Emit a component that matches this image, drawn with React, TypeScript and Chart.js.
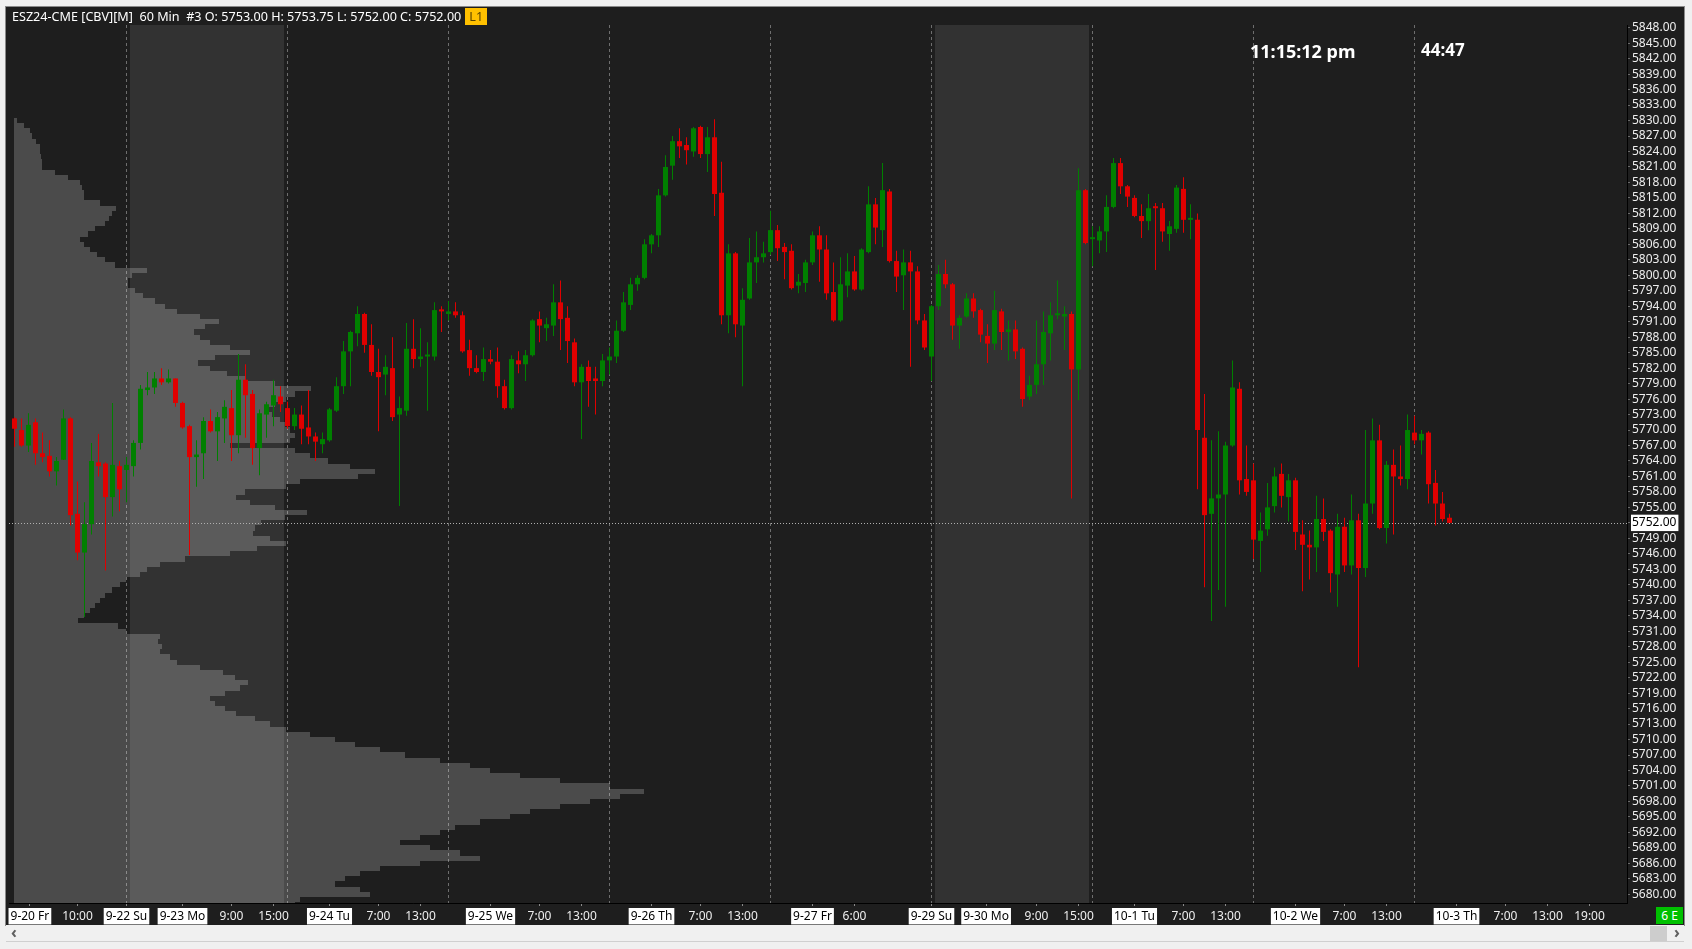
import React, { useEffect, useRef } from 'react';
import { Chart, registerables } from 'chart.js';

Chart.register(...registerables);

// ---- Candles: 60-min bars, index 0 = 9-20 01:00 ----
const OPEN = [
  5772.25, 5770.0, 5767.0, 5771.5, 5765.5, 5765.0, 5762.0, 5764.25, 5772.25, 5753.75,
  5746.25, 5751.75, 5763.75, 5763.5, 5757.0, 5763.0, 5762.25, 5763.0, 5767.5, 5777.75,
  5778.25, 5780.0, 5779.25, 5780.0, 5775.25, 5770.75, 5764.75, 5765.5, 5771.75, 5769.75,
  5772.25, 5774.25, 5769.0, 5779.75, 5777.0, 5766.5, 5773.0, 5774.75, 5776.5, 5774.25,
  5770.75, 5773.0, 5770.5, 5768.75, 5767.25, 5768.0, 5773.75, 5778.5, 5785.25, 5788.75,
  5792.5, 5786.5, 5781.25, 5780.75, 5782.0, 5773.0, 5773.75, 5785.75, 5783.75, 5784.25,
  5784.25, 5793.25, 5792.5, 5793.0, 5792.25, 5785.5, 5782.0, 5781.25, 5783.75, 5783.25,
  5778.5, 5774.25, 5783.5, 5782.75, 5784.5, 5791.5, 5789.75, 5790.25, 5794.75, 5791.75,
  5787.0, 5779.25, 5782.25, 5780.0, 5779.5, 5783.5, 5784.25, 5789.25, 5794.25, 5798.25,
  5799.5, 5806.0, 5807.75, 5815.5, 5821.25, 5826.0, 5825.25, 5824.0, 5828.75, 5823.5,
  5826.75, 5816.0, 5792.25, 5804.25, 5790.25, 5795.5, 5802.5, 5803.5, 5804.5, 5808.75,
  5805.5, 5804.75, 5798.0, 5798.5, 5802.5, 5807.75, 5805.0, 5796.75, 5791.25, 5798.0,
  5800.75, 5797.25, 5804.5, 5813.75, 5808.75, 5816.25, 5802.75, 5800.0, 5802.5, 5800.75,
  5791.25, 5784.25, 5794.0, 5800.25, 5798.25, 5790.25, 5792.0, 5795.5, 5793.25, 5788.25,
  5786.75, 5793.0, 5789.0, 5789.5, 5785.75, 5776.5, 5778.75, 5782.75, 5788.75, 5792.25,
  5792.0, 5792.5, 5781.75, 5816.5, 5807.0, 5806.75, 5808.5, 5813.25, 5821.75, 5817.25,
  5815.0, 5811.5, 5810.5, 5813.25, 5813.0, 5808.0, 5809.0, 5816.75, 5810.75, 5810.75,
  5768.5, 5753.75, 5756.75, 5757.5, 5767.0, 5778.0, 5760.5, 5760.25, 5748.5, 5750.75,
  5755.25, 5761.5, 5757.0, 5760.25, 5749.75, 5747.75, 5747.25, 5752.75, 5750.5, 5742.0,
  5751.25, 5743.75, 5752.5, 5743.25, 5755.75, 5768.0, 5751.0, 5763.25, 5761.0, 5760.5,
  5769.5, 5768.0, 5769.5, 5759.75, 5755.75, 5753.0,
];
const HIGH = [
  5772.5, 5772.25, 5773.25, 5772.25, 5769.5, 5768.0, 5764.75, 5774.0, 5772.5, 5760.0,
  5756.0, 5767.5, 5769.25, 5763.75, 5775.25, 5764.0, 5764.75, 5768.0, 5778.75, 5781.25,
  5781.25, 5782.0, 5781.75, 5780.0, 5775.5, 5771.0, 5768.0, 5772.5, 5774.0, 5773.5,
  5775.75, 5777.75, 5784.75, 5782.75, 5777.75, 5774.0, 5775.5, 5779.75, 5778.5, 5775.5,
  5774.25, 5774.75, 5777.75, 5769.5, 5769.5, 5774.25, 5780.25, 5787.25, 5789.25, 5794.0,
  5792.75, 5790.5, 5785.75, 5784.5, 5788.0, 5776.5, 5790.75, 5791.5, 5789.75, 5787.0,
  5794.75, 5794.0, 5795.0, 5794.75, 5793.0, 5787.5, 5784.5, 5786.0, 5785.5, 5786.0,
  5779.75, 5784.5, 5785.25, 5785.5, 5791.5, 5793.0, 5791.75, 5798.25, 5799.0, 5794.0,
  5787.75, 5782.75, 5783.5, 5782.25, 5784.75, 5786.0, 5791.25, 5796.75, 5799.5, 5800.0,
  5807.0, 5808.0, 5816.75, 5823.25, 5827.0, 5828.5, 5826.75, 5828.75, 5829.0, 5828.75,
  5830.25, 5822.0, 5806.0, 5804.5, 5797.5, 5807.25, 5808.5, 5806.5, 5812.5, 5809.75,
  5806.25, 5806.0, 5800.25, 5803.0, 5808.5, 5809.5, 5807.75, 5802.5, 5803.5, 5804.25,
  5803.75, 5805.25, 5817.25, 5815.0, 5821.75, 5816.75, 5804.75, 5805.0, 5804.75, 5801.75,
  5792.5, 5794.25, 5802.0, 5803.0, 5798.5, 5792.25, 5796.5, 5796.5, 5793.5, 5790.5,
  5797.0, 5793.5, 5791.25, 5791.25, 5786.0, 5780.5, 5791.25, 5793.0, 5794.75, 5799.0,
  5794.0, 5793.0, 5820.75, 5816.75, 5809.5, 5809.5, 5815.5, 5822.75, 5822.75, 5817.5,
  5815.5, 5813.75, 5815.75, 5814.0, 5814.0, 5810.5, 5817.5, 5819.0, 5813.75, 5812.0,
  5777.0, 5768.0, 5769.75, 5767.75, 5783.5, 5779.25, 5767.0, 5763.5, 5754.0, 5759.75,
  5762.75, 5763.5, 5761.5, 5760.75, 5752.5, 5750.5, 5757.25, 5756.75, 5750.75, 5753.75,
  5753.0, 5757.5, 5753.75, 5770.0, 5772.25, 5771.0, 5764.0, 5766.25, 5767.0, 5773.0,
  5772.75, 5770.0, 5769.75, 5762.25, 5758.0, 5753.75,
];
const LOW = [
  5766.75, 5766.75, 5765.75, 5763.25, 5763.75, 5761.0, 5759.25, 5764.25, 5751.5, 5744.75,
  5733.75, 5749.75, 5761.0, 5742.75, 5753.25, 5754.25, 5756.0, 5761.0, 5766.25, 5776.75,
  5777.0, 5778.75, 5779.0, 5774.5, 5770.25, 5745.75, 5759.0, 5760.5, 5769.5, 5764.0,
  5767.5, 5764.0, 5765.5, 5768.5, 5763.25, 5761.25, 5768.5, 5770.75, 5773.5, 5770.25,
  5770.0, 5767.25, 5767.25, 5764.0, 5765.5, 5767.75, 5773.5, 5777.0, 5778.5, 5786.25,
  5785.0, 5780.5, 5769.75, 5776.75, 5771.75, 5755.25, 5772.75, 5782.0, 5782.25, 5773.75,
  5783.5, 5789.0, 5791.25, 5791.75, 5785.0, 5780.5, 5781.0, 5779.5, 5782.75, 5776.25,
  5774.0, 5774.0, 5781.0, 5779.5, 5784.25, 5787.0, 5787.25, 5788.25, 5785.5, 5783.0,
  5778.5, 5768.25, 5774.5, 5773.0, 5778.5, 5780.75, 5783.0, 5789.0, 5793.25, 5797.0,
  5799.25, 5804.25, 5805.5, 5815.25, 5818.5, 5822.75, 5821.5, 5823.0, 5822.75, 5820.0,
  5811.5, 5790.5, 5788.75, 5788.0, 5778.5, 5795.25, 5798.5, 5802.5, 5804.0, 5802.75,
  5799.25, 5797.25, 5796.5, 5796.75, 5802.0, 5798.75, 5795.25, 5791.0, 5791.0, 5795.75,
  5797.0, 5797.0, 5804.25, 5806.0, 5805.5, 5802.5, 5796.75, 5793.25, 5782.25, 5790.5,
  5785.5, 5779.5, 5793.25, 5797.5, 5787.5, 5785.75, 5791.75, 5791.75, 5787.0, 5783.0,
  5785.5, 5785.5, 5783.5, 5783.75, 5774.5, 5775.75, 5777.0, 5778.75, 5783.5, 5791.5,
  5785.5, 5756.75, 5775.75, 5806.0, 5801.75, 5804.25, 5804.5, 5813.0, 5815.75, 5813.25,
  5811.25, 5807.25, 5808.75, 5801.0, 5806.5, 5804.75, 5808.25, 5808.25, 5807.0, 5758.5,
  5739.5, 5733.0, 5739.0, 5735.75, 5766.75, 5757.5, 5757.25, 5745.0, 5742.5, 5749.5,
  5754.0, 5755.0, 5752.25, 5746.75, 5738.75, 5741.0, 5742.5, 5748.5, 5738.5, 5735.75,
  5742.5, 5742.0, 5724.0, 5741.5, 5753.75, 5750.75, 5748.0, 5749.75, 5759.25, 5758.5,
  5767.25, 5765.25, 5755.75, 5751.5, 5752.25, 5752.0,
];
const CLOSE = [
  5770.25, 5767.0, 5771.0, 5765.5, 5764.75, 5762.0, 5764.0, 5772.25, 5753.5, 5746.25,
  5751.75, 5764.0, 5763.0, 5757.0, 5763.25, 5758.5, 5763.25, 5767.5, 5778.0, 5778.25,
  5780.0, 5779.25, 5780.0, 5775.25, 5770.5, 5764.75, 5765.25, 5771.75, 5769.75, 5772.5,
  5774.5, 5769.0, 5779.75, 5776.75, 5766.5, 5773.25, 5775.0, 5776.75, 5775.0, 5770.75,
  5773.0, 5770.25, 5768.75, 5767.75, 5768.25, 5774.0, 5778.5, 5785.25, 5789.0, 5792.5,
  5786.5, 5781.25, 5780.25, 5782.25, 5772.5, 5774.25, 5785.75, 5783.75, 5784.25, 5784.5,
  5793.25, 5793.0, 5793.0, 5792.25, 5785.25, 5782.0, 5781.25, 5783.75, 5783.25, 5778.5,
  5774.25, 5783.75, 5782.75, 5784.5, 5791.25, 5790.25, 5790.5, 5794.75, 5791.5, 5787.25,
  5779.25, 5782.25, 5779.5, 5779.5, 5783.5, 5784.25, 5789.25, 5794.75, 5798.25, 5799.5,
  5806.0, 5807.75, 5815.5, 5821.0, 5826.0, 5825.0, 5824.25, 5828.5, 5823.5, 5826.75,
  5815.75, 5792.25, 5804.25, 5790.5, 5795.25, 5802.5, 5803.5, 5804.25, 5808.75, 5805.25,
  5804.5, 5797.5, 5798.75, 5802.5, 5807.75, 5805.0, 5796.5, 5791.25, 5798.25, 5800.75,
  5797.25, 5805.0, 5813.75, 5809.25, 5816.5, 5802.75, 5799.75, 5802.5, 5800.75, 5791.25,
  5786.0, 5794.0, 5800.25, 5798.25, 5790.25, 5791.75, 5795.5, 5793.0, 5788.5, 5786.75,
  5793.25, 5789.0, 5789.5, 5785.25, 5776.0, 5778.75, 5782.75, 5789.0, 5792.25, 5792.5,
  5792.5, 5781.75, 5816.5, 5806.25, 5807.25, 5808.5, 5813.25, 5821.75, 5817.25, 5815.25,
  5811.5, 5810.5, 5813.0, 5813.0, 5808.5, 5809.5, 5817.0, 5810.75, 5811.0, 5770.0,
  5753.5, 5756.75, 5757.5, 5767.0, 5778.25, 5760.25, 5758.0, 5748.75, 5750.5, 5755.0,
  5761.0, 5757.25, 5760.25, 5750.25, 5747.75, 5747.25, 5752.75, 5750.25, 5742.25, 5751.25,
  5743.75, 5752.5, 5743.25, 5755.75, 5768.0, 5751.0, 5763.25, 5761.0, 5760.5, 5770.0,
  5768.0, 5769.25, 5759.5, 5755.75, 5752.75, 5752.0,
];

// ---- Sessions (bar index) ----
const SESSION_STARTS = [16, 39, 62, 85, 108, 131, 154, 177, 200];
const SHADED_SESSIONS = [[16.5, 38.5], [131.5, 153.5]];

// ---- Time axis ----
const X_TICK_POS = [2.2, 9, 16, 24, 31, 37, 45, 52, 58, 68, 75, 81, 91, 98, 104, 114, 120, 131, 138.8, 146, 152, 160, 167, 173, 183, 190, 196, 206, 213, 219, 225];
const X_TICK_TEXT = ['9-20 Fr', '10:00', '9-22 Su', '9-23 Mo', '9:00', '15:00', '9-24 Tu', '7:00', '13:00', '9-25 We', '7:00', '13:00', '9-26 Th', '7:00', '13:00', '9-27 Fr', '6:00', '9-29 Su', '9-30 Mo', '9:00', '15:00', '10-1 Tu', '7:00', '13:00', '10-2 We', '7:00', '13:00', '10-3 Th', '7:00', '13:00', '19:00'];

// ---- Price axis ----
const Y_TICKS = [
  5680, 5683, 5686, 5689, 5692, 5695, 5698, 5701, 5704, 5707, 5710, 5713, 5716, 5719, 5722, 5725, 5728, 5731, 5734,
  5737, 5740, 5743, 5746, 5749, 5752, 5755, 5758, 5761, 5764, 5767, 5770, 5773, 5776, 5779, 5782, 5785, 5788, 5791,
  5794, 5797, 5800, 5803, 5806, 5809, 5812, 5815, 5818, 5821, 5824, 5827, 5830, 5833, 5836, 5839, 5842, 5845, 5848,
];

// ---- Volume profile: one-point price levels starting at PROFILE_LOW ----
const PROFILE_LOW = 5678;
const PROFILE_VOLUME = [
  281, 286, 356, 346, 321, 331, 346, 366, 406, 466,
  446, 416, 386, 406, 426, 441, 466, 496, 516, 546,
  576, 606, 630, 596, 546, 506, 476, 456, 426, 391,
  366, 341, 321, 296, 272, 256, 241, 222, 211, 201,
  196, 211, 226, 234, 221, 209, 186, 163, 156, 146,
  148, 144, 146, 112, 104, 64, 70, 76, 81, 86,
  91, 98, 106, 112, 126, 133, 146, 171, 216, 243,
  272, 256, 239, 241, 247, 271, 293, 261, 236, 222,
  231, 272, 286, 344, 361, 336, 314, 296, 281, 216,
  276, 281, 276, 271, 266, 258, 251, 261, 272, 281,
  297, 261, 231, 213, 196, 184, 201, 236, 216, 196,
  186, 180, 191, 205, 186, 163, 151, 141, 129, 121,
  114, 114, 118, 133, 101, 91, 83, 76, 70, 66,
  74, 81, 91, 95, 98, 102, 86, 70, 70, 68,
  66, 54, 41, 28, 28, 27, 26, 26, 22, 18,
  16, 10, 3,
];

const HEADER = 'ESZ24-CME [CBV][M]  60 Min  #3 O: 5753.00 H: 5753.75 L: 5752.00 C: 5752.00';

const UP_COLOR = '#008000';
const DOWN_COLOR = '#e00000';
const X_MIN = -0.785714;
const X_MAX = 230.357143;
const Y_MIN = 5678.31;
const Y_MAX = 5848.52;
const PROFILE_WIDTH_FRACTION = 0.3894;
const FONT = '"Noto Sans", "Open Sans", sans-serif';

export default function App() {
  const ref = useRef<HTMLCanvasElement>(null);

  useEffect(() => {
    const canvas = ref.current;
    if (!canvas) return;
    const last = CLOSE[CLOSE.length - 1];
    const colors = OPEN.map((o, i) => (CLOSE[i] >= o ? UP_COLOR : DOWN_COLOR));
    const isDate = (i: number) => (X_TICK_TEXT[i] || '').includes('-');

    const backdrop = {
      id: 'sessionBackdrop',
      beforeDatasetsDraw(chart: any) {
        const { ctx, chartArea: a, scales } = chart;
        const x = scales.x;
        const y = scales.y;
        ctx.save();
        ctx.beginPath();
        ctx.rect(a.left, a.top, a.right - a.left, a.bottom - a.top);
        ctx.clip();
        ctx.fillStyle = '#323232';
        for (const [s, e] of SHADED_SESSIONS) {
          const x0 = Math.round(x.getPixelForValue(s));
          const x1 = Math.round(x.getPixelForValue(e));
          ctx.fillRect(x0, a.top, x1 - x0, a.bottom - a.top);
        }
        ctx.strokeStyle = '#6e6e6e';
        ctx.lineWidth = 1;
        ctx.setLineDash([3, 3]);
        for (const s of SESSION_STARTS) {
          const px = Math.floor(x.getPixelForValue(s)) + 0.5;
          ctx.beginPath();
          ctx.moveTo(px, a.top);
          ctx.lineTo(px, a.bottom);
          ctx.stroke();
        }
        ctx.setLineDash([]);
        const maxVol = Math.max(...PROFILE_VOLUME);
        const px0 = Math.round(x.getPixelForValue(-0.1));
        const fullW = (a.right - a.left) * PROFILE_WIDTH_FRACTION;
        ctx.fillStyle = 'rgba(255,255,255,0.2)';
        PROFILE_VOLUME.forEach((v, i) => {
          const p = PROFILE_LOW + i;
          const yt = Math.round(y.getPixelForValue(p + 0.5));
          const yb = Math.round(y.getPixelForValue(p - 0.5));
          const w = Math.round((v / maxVol) * fullW);
          ctx.fillRect(px0, yt, w, yb - yt);
        });
        const py = Math.round(y.getPixelForValue(last)) + 0.5;
        ctx.strokeStyle = '#b0b0b0';
        ctx.setLineDash([1, 2]);
        ctx.beginPath();
        ctx.moveTo(a.left, py);
        ctx.lineTo(a.right, py);
        ctx.stroke();
        ctx.restore();
      },
    };

    const chart = new Chart(canvas, {
      type: 'bar',
      data: {
        datasets: [
          {
            label: 'wick',
            data: OPEN.map((_, i) => ({ x: i, y: [LOW[i], HIGH[i]] })) as any,
            backgroundColor: colors,
            barThickness: 1,
            grouped: false,
            order: 2,
            borderWidth: 0,
            inflateAmount: 0,
          } as any,
          {
            label: 'body',
            data: OPEN.map((o, i) => ({ x: i, y: [o, CLOSE[i]] })) as any,
            backgroundColor: colors,
            barThickness: 5,
            minBarLength: 2,
            grouped: false,
            order: 1,
            borderWidth: 0,
            inflateAmount: 0,
          } as any,
        ],
      },
      options: {
        animation: false,
        responsive: false,
        devicePixelRatio: 1,
        events: [],
        layout: { padding: { left: 3, top: 18, right: 0, bottom: 0 } },
        plugins: { legend: { display: false }, tooltip: { enabled: false } },
        scales: {
          x: {
            type: 'linear',
            min: X_MIN,
            max: X_MAX,
            offset: false,
            afterBuildTicks: (s: any) => {
              s.ticks = X_TICK_POS.map((v) => ({ value: v }));
            },
            afterFit: (s: any) => {
              s.height = 22;
            },
            grid: { display: true, drawOnChartArea: false, drawTicks: true, tickLength: 3, color: '#8a8a8a', offset: false },
            border: { display: true, color: '#000000', width: 1 },
            ticks: {
              autoSkip: false,
              maxRotation: 0,
              minRotation: 0,
              padding: 3,
              font: { family: FONT, size: 12 },
              callback: (_v: any, i: number) => X_TICK_TEXT[i],
              color: (c: any) => (isDate(c.index) ? '#000000' : '#eeeeee'),
              showLabelBackdrop: (c: any) => isDate(c.index),
              backdropColor: '#ffffff',
              backdropPadding: { top: 1, bottom: 1, left: 2, right: 2 },
            } as any,
          },
          y: {
            type: 'linear',
            position: 'right',
            min: Y_MIN,
            max: Y_MAX,
            afterBuildTicks: (s: any) => {
              s.ticks = Y_TICKS.map((v) => ({ value: v }));
            },
            afterFit: (s: any) => {
              s.width = 57;
            },
            grid: { display: true, drawOnChartArea: false, drawTicks: true, tickLength: 3, color: '#6a6a6a' },
            border: { display: true, color: '#000000', width: 1 },
            ticks: {
              autoSkip: false,
              padding: 2,
              font: { family: FONT, size: 12 },
              callback: (v: any) => Number(v).toFixed(2),
              color: (c: any) => (c.tick && c.tick.value === last ? '#000000' : '#eeeeee'),
              showLabelBackdrop: (c: any) => !!(c.tick && c.tick.value === last),
              backdropColor: '#ffffff',
              backdropPadding: { top: 1, bottom: 1, left: 1, right: 2 },
            } as any,
          },
        },
      },
      plugins: [backdrop],
    });
    return () => chart.destroy();
  }, []);

  return (
    <div style={{ position: 'fixed', left: 0, top: 0, width: 1692, height: 949, background: '#f0f0f0', overflow: 'hidden', fontFamily: FONT }}>
      <div style={{ position: 'absolute', left: 5, top: 6, width: 1680, height: 920, boxSizing: 'border-box', border: '1px solid #8a8a8a', background: '#1e1e1e' }} />
      <canvas ref={ref} width={1678} height={918} style={{ position: 'absolute', left: 6, top: 7, width: 1678, height: 918 }} />
      <div style={{ position: 'absolute', left: 12, top: 8, fontSize: 12.6, lineHeight: '17px', color: '#ffffff', whiteSpace: 'pre' }}>
        {HEADER}
        <span style={{ display: 'inline-block', marginLeft: 4, padding: '0 4px', background: '#ffc000', color: '#5a4300' }}>L1</span>
      </div>
      <div style={{ position: 'absolute', left: 1250, top: 41, fontSize: 18, fontWeight: 700, lineHeight: '20px', color: '#ffffff', whiteSpace: 'pre' }}>11:15:12 pm</div>
      <div style={{ position: 'absolute', left: 1421, top: 40, fontSize: 17, fontWeight: 700, lineHeight: '20px', color: '#ffffff', whiteSpace: 'pre' }}>44:47</div>
      <div style={{ position: 'absolute', left: 1656, top: 907, width: 27, height: 17, background: '#00c000', color: '#ffffff', fontSize: 12, lineHeight: '17px', textAlign: 'center' }}>6 E</div>
      <div style={{ position: 'absolute', left: 6, top: 925, width: 1678, height: 16, background: '#f0f0f0', borderBottom: '1px solid #d0d0d0' }} />
      <div style={{ position: 'absolute', left: 11, top: 923, fontSize: 16, fontWeight: 700, lineHeight: '18px', color: '#606060' }}>‹</div>
      <div style={{ position: 'absolute', left: 1650, top: 926, width: 17, height: 15, background: '#cdcdcd' }} />
      <div style={{ position: 'absolute', left: 1674, top: 923, fontSize: 16, fontWeight: 700, lineHeight: '18px', color: '#606060' }}>›</div>
    </div>
  );
}
